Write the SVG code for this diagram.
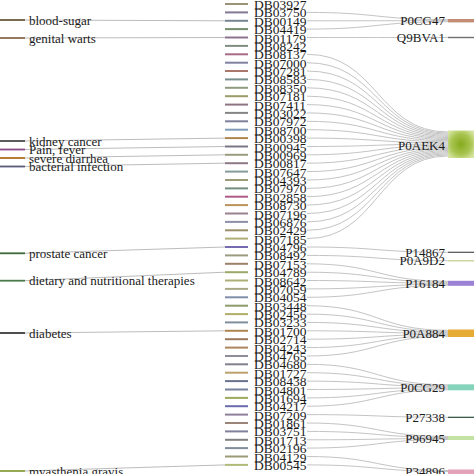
<svg xmlns="http://www.w3.org/2000/svg" width="474" height="474" viewBox="0 0 474 474">
<defs>
<style>
text{font-family:"Liberation Serif","Times New Roman",serif;fill:#1a1a1a}
.db{font-size:13.5px}
.dis{font-size:13px}
.pr{font-size:13px;text-anchor:end}
.e{fill:none;stroke:#c4c4c4;stroke-width:1}
.el{fill:none;stroke:#bcbcbc;stroke-width:1}
.m{stroke-width:2;stroke-opacity:0.85}
.dm{stroke-width:1.8}
</style>
<radialGradient id="gA" cx="0.5" cy="0.5" r="0.62">
<stop offset="0" stop-color="#86aa1e"/><stop offset="0.6" stop-color="#a8c450"/><stop offset="1" stop-color="#d6e4a2"/>
</radialGradient>
</defs>
<g id="connectors">
<path class="el" d="M25 20L225 20.8"/>
<path class="el" d="M25 38L225 37.5"/>
<path class="el" d="M25 141L225 138.1"/>
<path class="el" d="M25 149.5L225 146.5"/>
<path class="el" d="M25 158L225 154.8"/>
<path class="el" d="M25 166.5L225 163.2"/>
<path class="el" d="M25 253.3L225 247"/>
<path class="el" d="M25 280.7L225 272.2"/>
<path class="el" d="M25 333L225 330.8"/>
<path class="el" d="M25 471L225 464.9"/>
<path class="e" d="M307 12.4C377.5 12.4 377.5 19.7 448 19.7"/>
<path class="e" d="M307 20.8C377.5 20.8 377.5 20.7 448 20.7"/>
<path class="e" d="M307 29.1C377.5 29.1 377.5 21.7 448 21.7"/>
<path class="e" d="M307 37.5C377.5 37.5 377.5 37.5 448 37.5"/>
<path class="e" d="M307 54.3C377.5 54.3 377.5 132 448 132"/>
<path class="e" d="M307 62.7C377.5 62.7 377.5 133.1 448 133.1"/>
<path class="e" d="M307 71C377.5 71 377.5 134.2 448 134.2"/>
<path class="e" d="M307 79.4C377.5 79.4 377.5 135.3 448 135.3"/>
<path class="e" d="M307 87.8C377.5 87.8 377.5 136.4 448 136.4"/>
<path class="e" d="M307 96.2C377.5 96.2 377.5 137.5 448 137.5"/>
<path class="e" d="M307 104.6C377.5 104.6 377.5 138.5 448 138.5"/>
<path class="e" d="M307 112.9C377.5 112.9 377.5 139.6 448 139.6"/>
<path class="e" d="M307 121.3C377.5 121.3 377.5 140.7 448 140.7"/>
<path class="e" d="M307 129.7C377.5 129.7 377.5 141.8 448 141.8"/>
<path class="e" d="M307 138.1C377.5 138.1 377.5 142.9 448 142.9"/>
<path class="e" d="M307 146.5C377.5 146.5 377.5 144 448 144"/>
<path class="e" d="M307 154.8C377.5 154.8 377.5 145.1 448 145.1"/>
<path class="e" d="M307 163.2C377.5 163.2 377.5 146.2 448 146.2"/>
<path class="e" d="M307 171.6C377.5 171.6 377.5 147.3 448 147.3"/>
<path class="e" d="M307 180C377.5 180 377.5 148.4 448 148.4"/>
<path class="e" d="M307 188.4C377.5 188.4 377.5 149.4 448 149.4"/>
<path class="e" d="M307 196.7C377.5 196.7 377.5 150.5 448 150.5"/>
<path class="e" d="M307 205.1C377.5 205.1 377.5 151.6 448 151.6"/>
<path class="e" d="M307 213.5C377.5 213.5 377.5 152.7 448 152.7"/>
<path class="e" d="M307 221.9C377.5 221.9 377.5 153.8 448 153.8"/>
<path class="e" d="M307 230.3C377.5 230.3 377.5 154.9 448 154.9"/>
<path class="e" d="M307 238.6C377.5 238.6 377.5 156 448 156"/>
<path class="e" d="M307 247C377.5 247 377.5 252.3 448 252.3"/>
<path class="e" d="M307 255.4C377.5 255.4 377.5 260.7 448 260.7"/>
<path class="e" d="M307 263.8C377.5 263.8 377.5 281.3 448 281.3"/>
<path class="e" d="M307 272.2C377.5 272.2 377.5 282.3 448 282.3"/>
<path class="e" d="M307 280.5C377.5 280.5 377.5 283.3 448 283.3"/>
<path class="e" d="M307 288.9C377.5 288.9 377.5 284.3 448 284.3"/>
<path class="e" d="M307 297.3C377.5 297.3 377.5 285.3 448 285.3"/>
<path class="e" d="M307 305.7C377.5 305.7 377.5 330.3 448 330.3"/>
<path class="e" d="M307 314.1C377.5 314.1 377.5 331.3 448 331.3"/>
<path class="e" d="M307 322.4C377.5 322.4 377.5 332.3 448 332.3"/>
<path class="e" d="M307 330.8C377.5 330.8 377.5 333.3 448 333.3"/>
<path class="e" d="M307 339.2C377.5 339.2 377.5 334.3 448 334.3"/>
<path class="e" d="M307 347.6C377.5 347.6 377.5 335.3 448 335.3"/>
<path class="e" d="M307 356C377.5 356 377.5 336.3 448 336.3"/>
<path class="e" d="M307 364.3C377.5 364.3 377.5 384.8 448 384.8"/>
<path class="e" d="M307 372.7C377.5 372.7 377.5 385.8 448 385.8"/>
<path class="e" d="M307 381.1C377.5 381.1 377.5 386.8 448 386.8"/>
<path class="e" d="M307 389.5C377.5 389.5 377.5 387.8 448 387.8"/>
<path class="e" d="M307 397.9C377.5 397.9 377.5 388.8 448 388.8"/>
<path class="e" d="M307 406.2C377.5 406.2 377.5 389.8 448 389.8"/>
<path class="e" d="M307 414.6C377.5 414.6 377.5 417.3 448 417.3"/>
<path class="e" d="M307 423C377.5 423 377.5 436.5 448 436.5"/>
<path class="e" d="M307 431.4C377.5 431.4 377.5 437.5 448 437.5"/>
<path class="e" d="M307 439.8C377.5 439.8 377.5 438.5 448 438.5"/>
<path class="e" d="M307 448.1C377.5 448.1 377.5 439.5 448 439.5"/>
<path class="e" d="M307 456.5C377.5 456.5 377.5 470.5 448 470.5"/>
<path class="e" d="M307 464.9C377.5 464.9 377.5 471.5 448 471.5"/>
</g>
<g id="diseases">
<g id="d-blood-sugar" transform="translate(0,20)"><line class="dm" x1="0" x2="25" stroke="#6a5a40"/><text class="dis" x="29" y="4.5">blood-sugar</text></g>
<g id="d-genital-warts" transform="translate(0,38)"><line class="dm" x1="0" x2="25" stroke="#8a6a4a"/><text class="dis" x="29" y="4.5">genital warts</text></g>
<g id="d-kidney-cancer" transform="translate(0,141)"><line class="dm" x1="0" x2="25" stroke="#4a4a4a"/><text class="dis" x="29" y="4.5">kidney cancer</text></g>
<g id="d-pain-fever" transform="translate(0,149.5)"><line class="dm" x1="0" x2="25" stroke="#8a4a8a"/><text class="dis" x="29" y="4.5">Pain, fever</text></g>
<g id="d-severe-diarrhea" transform="translate(0,158)"><line class="dm" x1="0" x2="25" stroke="#b07020"/><text class="dis" x="29" y="4.5">severe diarrhea</text></g>
<g id="d-bacterial-infection" transform="translate(0,166.5)"><line class="dm" x1="0" x2="25" stroke="#5a5a7a"/><text class="dis" x="29" y="4.5">bacterial infection</text></g>
<g id="d-prostate-cancer" transform="translate(0,253.3)"><line class="dm" x1="0" x2="25" stroke="#3a6a3a"/><text class="dis" x="29" y="4.5">prostate cancer</text></g>
<g id="d-dietary" transform="translate(0,280.7)"><line class="dm" x1="0" x2="25" stroke="#4a7a4a"/><text class="dis" x="29" y="4.5">dietary and nutritional therapies</text></g>
<g id="d-diabetes" transform="translate(0,333)"><line class="dm" x1="0" x2="25" stroke="#3a3a3a"/><text class="dis" x="29" y="4.5">diabetes</text></g>
<g id="d-myasthenia-gravis" transform="translate(0,471)"><line class="dm" x1="0" x2="25" stroke="#8aa040"/><text class="dis" x="29" y="4.5">myasthenia gravis</text></g>
</g>
<g id="drugs">
<g id="DB03927" transform="translate(0,4)"><line class="m" x1="225" x2="248" stroke="#8a8060"/><text class="db" x="254" y="5">DB03927</text></g>
<g id="DB03750" transform="translate(0,12.4)"><line class="m" x1="225" x2="248" stroke="#6c6080"/><text class="db" x="254" y="5">DB03750</text></g>
<g id="DB00149" transform="translate(0,20.8)"><line class="m" x1="225" x2="248" stroke="#607080"/><text class="db" x="254" y="5">DB00149</text></g>
<g id="DB04419" transform="translate(0,29.1)"><line class="m" x1="225" x2="248" stroke="#5a7a50"/><text class="db" x="254" y="5">DB04419</text></g>
<g id="DB01179" transform="translate(0,37.5)"><line class="m" x1="225" x2="248" stroke="#7a5a7a"/><text class="db" x="254" y="5">DB01179</text></g>
<g id="DB08242" transform="translate(0,45.9)"><line class="m" x1="225" x2="248" stroke="#6a7a6a"/><text class="db" x="254" y="5">DB08242</text></g>
<g id="DB08137" transform="translate(0,54.3)"><line class="m" x1="225" x2="248" stroke="#9a5070"/><text class="db" x="254" y="5">DB08137</text></g>
<g id="DB07000" transform="translate(0,62.7)"><line class="m" x1="225" x2="248" stroke="#6a6a90"/><text class="db" x="254" y="5">DB07000</text></g>
<g id="DB07281" transform="translate(0,71)"><line class="m" x1="225" x2="248" stroke="#9a6050"/><text class="db" x="254" y="5">DB07281</text></g>
<g id="DB08583" transform="translate(0,79.4)"><line class="m" x1="225" x2="248" stroke="#607a7a"/><text class="db" x="254" y="5">DB08583</text></g>
<g id="DB08350" transform="translate(0,87.8)"><line class="m" x1="225" x2="248" stroke="#7a8a6a"/><text class="db" x="254" y="5">DB08350</text></g>
<g id="DB07181" transform="translate(0,96.2)"><line class="m" x1="225" x2="248" stroke="#8a8a50"/><text class="db" x="254" y="5">DB07181</text></g>
<g id="DB07411" transform="translate(0,104.6)"><line class="m" x1="225" x2="248" stroke="#7a5a6a"/><text class="db" x="254" y="5">DB07411</text></g>
<g id="DB03022" transform="translate(0,112.9)"><line class="m" x1="225" x2="248" stroke="#707070"/><text class="db" x="254" y="5">DB03022</text></g>
<g id="DB07972" transform="translate(0,121.3)"><line class="m" x1="225" x2="248" stroke="#6a6a8a"/><text class="db" x="254" y="5">DB07972</text></g>
<g id="DB08700" transform="translate(0,129.7)"><line class="m" x1="225" x2="248" stroke="#6a8aaa"/><text class="db" x="254" y="5">DB08700</text></g>
<g id="DB00398" transform="translate(0,138.1)"><line class="m" x1="225" x2="248" stroke="#a07030"/><text class="db" x="254" y="5">DB00398</text></g>
<g id="DB00945" transform="translate(0,146.5)"><line class="m" x1="225" x2="248" stroke="#606070"/><text class="db" x="254" y="5">DB00945</text></g>
<g id="DB00969" transform="translate(0,154.8)"><line class="m" x1="225" x2="248" stroke="#8a8a6a"/><text class="db" x="254" y="5">DB00969</text></g>
<g id="DB00817" transform="translate(0,163.2)"><line class="m" x1="225" x2="248" stroke="#7a6070"/><text class="db" x="254" y="5">DB00817</text></g>
<g id="DB07647" transform="translate(0,171.6)"><line class="m" x1="225" x2="248" stroke="#708a8a"/><text class="db" x="254" y="5">DB07647</text></g>
<g id="DB04393" transform="translate(0,180)"><line class="m" x1="225" x2="248" stroke="#8a8a60"/><text class="db" x="254" y="5">DB04393</text></g>
<g id="DB07970" transform="translate(0,188.4)"><line class="m" x1="225" x2="248" stroke="#5a7a6a"/><text class="db" x="254" y="5">DB07970</text></g>
<g id="DB02858" transform="translate(0,196.7)"><line class="m" x1="225" x2="248" stroke="#a04070"/><text class="db" x="254" y="5">DB02858</text></g>
<g id="DB08730" transform="translate(0,205.1)"><line class="m" x1="225" x2="248" stroke="#b08040"/><text class="db" x="254" y="5">DB08730</text></g>
<g id="DB07196" transform="translate(0,213.5)"><line class="m" x1="225" x2="248" stroke="#8a6a7a"/><text class="db" x="254" y="5">DB07196</text></g>
<g id="DB06876" transform="translate(0,221.9)"><line class="m" x1="225" x2="248" stroke="#7a7a9a"/><text class="db" x="254" y="5">DB06876</text></g>
<g id="DB02429" transform="translate(0,230.3)"><line class="m" x1="225" x2="248" stroke="#8a7a50"/><text class="db" x="254" y="5">DB02429</text></g>
<g id="DB07185" transform="translate(0,238.6)"><line class="m" x1="225" x2="248" stroke="#a0a060"/><text class="db" x="254" y="5">DB07185</text></g>
<g id="DB04796" transform="translate(0,247)"><line class="m" x1="225" x2="248" stroke="#6050a0"/><text class="db" x="254" y="5">DB04796</text></g>
<g id="DB08492" transform="translate(0,255.4)"><line class="m" x1="225" x2="248" stroke="#8a8a6a"/><text class="db" x="254" y="5">DB08492</text></g>
<g id="DB07153" transform="translate(0,263.8)"><line class="m" x1="225" x2="248" stroke="#8a6a50"/><text class="db" x="254" y="5">DB07153</text></g>
<g id="DB04789" transform="translate(0,272.2)"><line class="m" x1="225" x2="248" stroke="#8a9a50"/><text class="db" x="254" y="5">DB04789</text></g>
<g id="DB08642" transform="translate(0,280.5)"><line class="m" x1="225" x2="248" stroke="#a0a060"/><text class="db" x="254" y="5">DB08642</text></g>
<g id="DB07059" transform="translate(0,288.9)"><line class="m" x1="225" x2="248" stroke="#9a9a70"/><text class="db" x="254" y="5">DB07059</text></g>
<g id="DB04054" transform="translate(0,297.3)"><line class="m" x1="225" x2="248" stroke="#6a7a9a"/><text class="db" x="254" y="5">DB04054</text></g>
<g id="DB03448" transform="translate(0,305.7)"><line class="m" x1="225" x2="248" stroke="#7a8a50"/><text class="db" x="254" y="5">DB03448</text></g>
<g id="DB02456" transform="translate(0,314.1)"><line class="m" x1="225" x2="248" stroke="#a0a050"/><text class="db" x="254" y="5">DB02456</text></g>
<g id="DB03233" transform="translate(0,322.4)"><line class="m" x1="225" x2="248" stroke="#6a7a8a"/><text class="db" x="254" y="5">DB03233</text></g>
<g id="DB01700" transform="translate(0,330.8)"><line class="m" x1="225" x2="248" stroke="#a07030"/><text class="db" x="254" y="5">DB01700</text></g>
<g id="DB02714" transform="translate(0,339.2)"><line class="m" x1="225" x2="248" stroke="#8a6040"/><text class="db" x="254" y="5">DB02714</text></g>
<g id="DB04243" transform="translate(0,347.6)"><line class="m" x1="225" x2="248" stroke="#a07040"/><text class="db" x="254" y="5">DB04243</text></g>
<g id="DB04765" transform="translate(0,356)"><line class="m" x1="225" x2="248" stroke="#7a7a8a"/><text class="db" x="254" y="5">DB04765</text></g>
<g id="DB04680" transform="translate(0,364.3)"><line class="m" x1="225" x2="248" stroke="#6a6a7a"/><text class="db" x="254" y="5">DB04680</text></g>
<g id="DB01727" transform="translate(0,372.7)"><line class="m" x1="225" x2="248" stroke="#b09050"/><text class="db" x="254" y="5">DB01727</text></g>
<g id="DB08438" transform="translate(0,381.1)"><line class="m" x1="225" x2="248" stroke="#505a7a"/><text class="db" x="254" y="5">DB08438</text></g>
<g id="DB04801" transform="translate(0,389.5)"><line class="m" x1="225" x2="248" stroke="#606a8a"/><text class="db" x="254" y="5">DB04801</text></g>
<g id="DB01694" transform="translate(0,397.9)"><line class="m" x1="225" x2="248" stroke="#8a9a40"/><text class="db" x="254" y="5">DB01694</text></g>
<g id="DB04217" transform="translate(0,406.2)"><line class="m" x1="225" x2="248" stroke="#5050a0"/><text class="db" x="254" y="5">DB04217</text></g>
<g id="DB07209" transform="translate(0,414.6)"><line class="m" x1="225" x2="248" stroke="#7a6a8a"/><text class="db" x="254" y="5">DB07209</text></g>
<g id="DB01861" transform="translate(0,423)"><line class="m" x1="225" x2="248" stroke="#8a7060"/><text class="db" x="254" y="5">DB01861</text></g>
<g id="DB03751" transform="translate(0,431.4)"><line class="m" x1="225" x2="248" stroke="#6a6a8a"/><text class="db" x="254" y="5">DB03751</text></g>
<g id="DB01713" transform="translate(0,439.8)"><line class="m" x1="225" x2="248" stroke="#6a6a6a"/><text class="db" x="254" y="5">DB01713</text></g>
<g id="DB02196" transform="translate(0,448.1)"><line class="m" x1="225" x2="248" stroke="#6a7a8a"/><text class="db" x="254" y="5">DB02196</text></g>
<g id="DB04129" transform="translate(0,456.5)"><line class="m" x1="225" x2="248" stroke="#8a8a60"/><text class="db" x="254" y="5">DB04129</text></g>
<g id="DB00545" transform="translate(0,464.9)"><line class="m" x1="225" x2="248" stroke="#a0b060"/><text class="db" x="254" y="5">DB00545</text></g>
</g>
<g id="proteins">
<g id="P0CG47"><rect x="448" y="19" width="26" height="3.4" fill="#c48c74"/><text class="pr" x="445" y="25.2">P0CG47</text></g>
<g id="Q9BVA1"><rect x="448" y="36.8" width="26" height="1.4" fill="#707070"/><text class="pr" x="445" y="42">Q9BVA1</text></g>
<g id="P0AEK4"><rect x="448" y="130.5" width="26" height="27.5" fill="url(#gA)"/><text class="pr" x="445" y="149.5">P0AEK4</text></g>
<g id="P14867"><rect x="448" y="251.7" width="26" height="1.2" fill="#505050"/><text class="pr" x="445" y="256.8">P14867</text></g>
<g id="P0A9D2"><rect x="448" y="260" width="26" height="1.5" fill="#cdd6a4"/><text class="pr" x="445" y="265.2">P0A9D2</text></g>
<g id="P16184"><rect x="448" y="280.8" width="26" height="5" fill="#9c82d4"/><text class="pr" x="445" y="287.8">P16184</text></g>
<g id="P0A884"><rect x="448" y="329.5" width="26" height="7.5" fill="#e6ac36"/><text class="pr" x="445" y="337.8">P0A884</text></g>
<g id="P0CG29"><rect x="448" y="384.3" width="26" height="6" fill="#86d4bc"/><text class="pr" x="445" y="391.8">P0CG29</text></g>
<g id="P27338"><rect x="448" y="416.7" width="26" height="1.3" fill="#3a5a4a"/><text class="pr" x="445" y="421.8">P27338</text></g>
<g id="P96945"><rect x="448" y="436" width="26" height="4" fill="#c4e2a4"/><text class="pr" x="445" y="442.5">P96945</text></g>
<g id="P34896"><rect x="448" y="469.5" width="26" height="6" fill="#e4a4b8"/><text class="pr" x="445" y="476">P34896</text></g>
</g>
</svg>
